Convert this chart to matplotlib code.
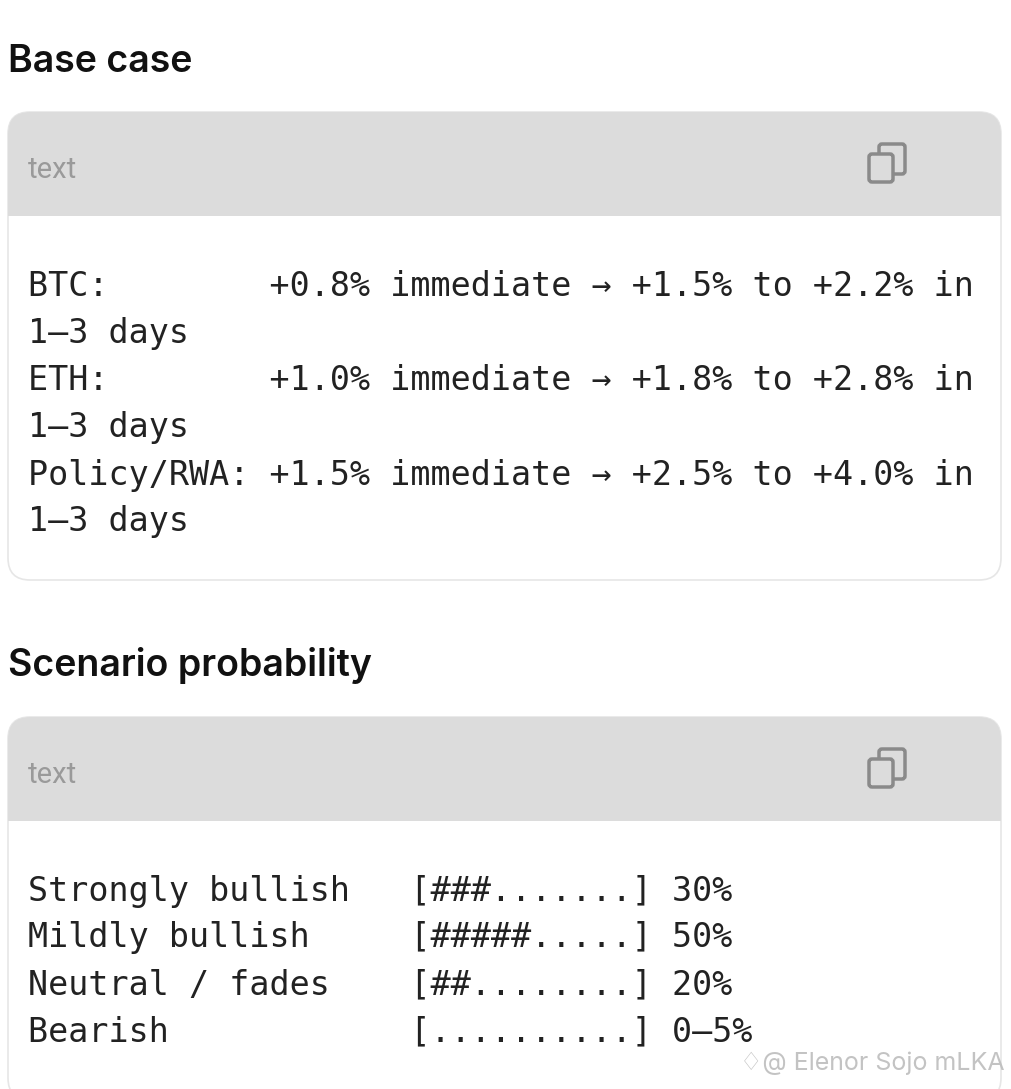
import matplotlib.pyplot as plt
from matplotlib.patches import FancyBboxPatch, Rectangle

assets = ["BTC:", "ETH:", "Policy/RWA:"]
immediate = ["+0.8%", "+1.0%", "+1.5%"]
range_low = ["+1.5%", "+1.8%", "+2.5%"]
range_high = ["+2.2%", "+2.8%", "+4.0%"]

scenarios = ["Strongly bullish", "Mildly bullish", "Neutral / fades", "Bearish"]
filled = [3, 5, 2, 0]
probabilities = ["30%", "50%", "20%", "0\u20135%"]

W, H = 1011, 1089
fig = plt.figure(figsize=(W / 100, H / 100), dpi=100)
ax = fig.add_axes([0, 0, 1, 1])
ax.set_xlim(0, W)
ax.set_ylim(H, 0)
ax.axis("off")

MONO = "DejaVu Sans Mono"
SANS = "Inter"
MS = 24


def code_box(top, bottom):
    box = FancyBboxPatch((8, top), 993, bottom - top, boxstyle="round,pad=0,rounding_size=22",
                         fc="white", ec="#e6e6e6", lw=1.2)
    ax.add_patch(box)
    head = FancyBboxPatch((8, top), 993, 104, boxstyle="round,pad=0,rounding_size=22",
                          fc="#dcdcdc", ec="none")
    head.set_clip_path(box)
    ax.add_patch(head)
    ax.add_patch(Rectangle((8, top + 60), 993, 44, fc="#dcdcdc", ec="none"))
    ax.text(28, top + 58, "text", fontsize=21, color="#9a9a9a", family="Roboto", va="center")
    # copy icon
    ix, iy = 869, top + 32
    ax.add_patch(FancyBboxPatch((ix + 10, iy), 26, 30, boxstyle="round,pad=0,rounding_size=3",
                                fc="#dcdcdc", ec="#8a8a8a", lw=2.5))
    ax.add_patch(FancyBboxPatch((ix, iy + 10), 24, 28, boxstyle="round,pad=0,rounding_size=3",
                                fc="#dcdcdc", ec="#8a8a8a", lw=2.5))


ax.text(8, 62, "Base case", fontsize=27, fontweight="semibold", family=SANS, va="center", color="#111111")
code_box(112, 580)
y = 287
for a, im, lo, hi in zip(assets, immediate, range_low, range_high):
    line = f"{a:<12}{im} immediate \u2192 {lo} to {hi} in"
    ax.text(28, y, line, fontsize=MS, family=MONO, va="center", color="#222222")
    ax.text(28, y + 47, "1\u20133 days", fontsize=MS, family=MONO, va="center", color="#222222")
    y += 94

ax.text(8, 666, "Scenario probability", fontsize=27, fontweight="semibold", family=SANS, va="center", color="#111111")
code_box(717, 1100)
y = 891
for s, f, p in zip(scenarios, filled, probabilities):
    bar = "[" + "#" * f + "." * (10 - f) + "]"
    ax.text(28, y, f"{s:<19}{bar} {p}", fontsize=MS, family=MONO, va="center", color="#222222")
    y += 47

ax.text(1005, 1063, "\u2662@ Elenor Sojo mLKA", fontsize=18, color="#bdbdbd", family=[SANS, "DejaVu Sans"],
        ha="right", va="center", alpha=0.9)

fig.savefig("out.png", dpi=100)
